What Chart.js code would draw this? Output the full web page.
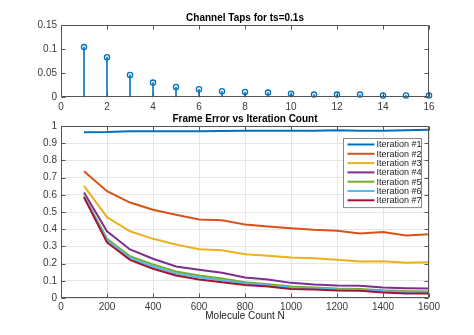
<!DOCTYPE html>
<html>
<head>
<meta charset="utf-8">
<script src="https://cdn.jsdelivr.net/npm/chart.js@4.4.1/dist/chart.umd.min.js"></script>
<style>
  body { margin: 0; background: #fff; }
  #wrap { position: relative; width: 474px; height: 335px; }
  canvas { position: absolute; left: 0; }
</style>
</head>
<body>
<div id="wrap">
  <canvas id="taps" width="474" height="112" style="top:0"></canvas>
  <canvas id="fer" width="474" height="223" style="top:112px"></canvas>
</div>
<script>
// channel impulse response, one tap per sample
const tapIndex = [1, 2, 3, 4, 5, 6, 7, 8, 9, 10, 11, 12, 13, 14, 15, 16];
const tapGain  = [0.104, 0.083, 0.046, 0.030, 0.021, 0.016, 0.012, 0.0105, 0.0092, 0.007, 0.005, 0.005, 0.005, 0.003, 0.003, 0.003];
const tapXTicks = [0, 2, 4, 6, 8, 10, 12, 14, 16];
const tapYTicks = [0, 0.05, 0.1, 0.15];

// frame error rate per decoder iteration
const moleculeCount = [100, 200, 300, 400, 500, 600, 700, 800, 900, 1000, 1100, 1200, 1300, 1400, 1500, 1600];
const iter1 = [0.963, 0.965, 0.970, 0.970, 0.970, 0.970, 0.971, 0.972, 0.972, 0.973, 0.973, 0.975, 0.973, 0.972, 0.975, 0.978];
const iter2 = [0.737, 0.621, 0.555, 0.513, 0.484, 0.457, 0.452, 0.428, 0.416, 0.406, 0.397, 0.391, 0.375, 0.383, 0.363, 0.371];
const iter3 = [0.652, 0.470, 0.388, 0.344, 0.311, 0.284, 0.278, 0.255, 0.245, 0.235, 0.231, 0.222, 0.212, 0.214, 0.205, 0.208];
const iter4 = [0.613, 0.388, 0.282, 0.228, 0.183, 0.164, 0.147, 0.119, 0.108, 0.088, 0.078, 0.073, 0.071, 0.061, 0.057, 0.055];
const iter5 = [0.595, 0.344, 0.243, 0.195, 0.154, 0.131, 0.113, 0.092, 0.080, 0.067, 0.061, 0.055, 0.053, 0.045, 0.040, 0.038];
const iter6 = [0.590, 0.334, 0.233, 0.183, 0.143, 0.120, 0.103, 0.084, 0.073, 0.060, 0.055, 0.049, 0.047, 0.039, 0.033, 0.032];
const iter7 = [0.585, 0.323, 0.222, 0.170, 0.131, 0.108, 0.092, 0.075, 0.067, 0.053, 0.049, 0.044, 0.042, 0.032, 0.026, 0.026];
const iterSeries = [iter1, iter2, iter3, iter4, iter5, iter6, iter7];
const iterNames  = ['Iteration #1', 'Iteration #2', 'Iteration #3', 'Iteration #4', 'Iteration #5', 'Iteration #6', 'Iteration #7'];
const iterColors = ['#0072BD', '#D95319', '#EDB120', '#7E2F8E', '#77AC30', '#4DBEEE', '#A2142F'];
const ferXTicks = [0, 200, 400, 600, 800, 1000, 1200, 1400, 1600];
const ferYTicks = [0, 0.1, 0.2, 0.3, 0.4, 0.5, 0.6, 0.7, 0.8, 0.9, 1];

Chart.defaults.font.family = '"Liberation Sans", Arial, Helvetica, sans-serif';
Chart.defaults.font.size = 10;
Chart.defaults.color = '#3a3a3a';
Chart.defaults.animation = false;

const fixTicks = list => scale => { scale.ticks = list.map(v => ({ value: v })); };

// matlab-style box with inward ticks on all four sides
const boxAxes = {
  id: 'boxAxes',
  afterDatasetsDraw(chart) {
    const { ctx, chartArea: a, scales } = chart;
    const L = Math.round(a.left) + 0.5, R = Math.round(a.right) - 0.5;
    const T = Math.round(a.top) + 0.5, B = Math.round(a.bottom) - 0.5;
    ctx.save();
    ctx.strokeStyle = '#555';
    ctx.lineWidth = 1;
    ctx.beginPath();
    ctx.rect(L, T, R - L, B - T);
    scales.x.ticks.forEach(t => {
      const px = Math.round(scales.x.getPixelForValue(t.value)) + 0.5;
      ctx.moveTo(px, B); ctx.lineTo(px, B - 4);
      ctx.moveTo(px, T); ctx.lineTo(px, T + 4);
    });
    scales.y.ticks.forEach(t => {
      const py = Math.round(scales.y.getPixelForValue(t.value)) + 0.5;
      ctx.moveTo(L, py); ctx.lineTo(L + 4, py);
      ctx.moveTo(R, py); ctx.lineTo(R - 4, py);
    });
    ctx.stroke();
    ctx.restore();
  }
};

// legend box in the upper right corner of the plot area
const insetLegend = {
  id: 'insetLegend',
  afterDraw(chart) {
    const { ctx, chartArea: a } = chart;
    const sets = chart.data.datasets;
    const w = 78, rowH = 9.3;
    const h = sets.length * rowH + 4;
    const x0 = Math.round(a.right - 8 - w) + 0.5, y0 = Math.round(a.top + 12) + 0.5;
    ctx.save();
    ctx.fillStyle = '#fff';
    ctx.fillRect(x0, y0, w, h);
    ctx.strokeStyle = '#888';
    ctx.lineWidth = 1;
    ctx.strokeRect(x0, y0, w, h);
    ctx.font = '9px "Liberation Sans", Arial, sans-serif';
    ctx.textBaseline = 'middle';
    ctx.fillStyle = '#222';
    sets.forEach((ds, i) => {
      const y = y0 + 6 + i * rowH;
      ctx.strokeStyle = ds.borderColor;
      ctx.lineWidth = 2;
      ctx.beginPath();
      ctx.moveTo(x0 + 4, y); ctx.lineTo(x0 + 31, y);
      ctx.stroke();
      ctx.fillText(ds.label, x0 + 33, y + 0.5);
    });
    ctx.restore();
  }
};

const tapPoints = tapIndex.map((n, i) => ({ x: n, y: tapGain[i] }));

new Chart(document.getElementById('taps'), {
  type: 'bar',
  data: {
    datasets: [
      {
        type: 'line', data: tapPoints, showLine: false, clip: false,
        pointRadius: 2.6, pointBorderWidth: 1.3, pointBorderColor: '#0072BD',
        pointBackgroundColor: 'rgba(0,0,0,0)'
      },
      { type: 'bar', data: tapPoints, barThickness: 1.2, backgroundColor: '#2a84c6', clip: false }
    ]
  },
  options: {
    responsive: false,
    layout: { padding: { left: 21, right: 45, top: 0, bottom: 0 } },
    plugins: {
      legend: { display: false },
      tooltip: { enabled: false },
      title: {
        display: true, fullSize: false, text: 'Channel Taps for ts=0.1s', color: '#000',
        font: { size: 10, weight: 'bold' }, padding: { top: 12, bottom: 1 }
      }
    },
    scales: {
      x: {
        type: 'linear', min: 0, max: 16, offset: false,
        afterBuildTicks: fixTicks(tapXTicks),
        afterFit: s => { s.height = 15; },
        grid: { display: false, drawTicks: false },
        border: { display: false },
        ticks: { padding: 4, maxRotation: 0, autoSkip: false, callback: v => String(v) }
      },
      y: {
        min: 0, max: 0.15,
        afterBuildTicks: fixTicks(tapYTicks),
        afterFit: s => { s.width = 40; },
        grid: { display: false, drawTicks: false },
        border: { display: false },
        ticks: { padding: 4, callback: v => String(+v.toFixed(2)) }
      }
    }
  },
  plugins: [boxAxes]
});

new Chart(document.getElementById('fer'), {
  type: 'line',
  data: {
    datasets: iterSeries.map((vals, i) => ({
      label: iterNames[i],
      data: moleculeCount.map((n, j) => ({ x: n, y: vals[j] })),
      borderColor: iterColors[i],
      borderWidth: 2,
      pointRadius: 0,
      tension: 0,
      order: iterSeries.length - i
    }))
  },
  options: {
    responsive: false,
    layout: { padding: { left: 21, right: 45, top: 0, bottom: 13 } },
    plugins: {
      legend: { display: false },
      tooltip: { enabled: false },
      title: {
        display: true, fullSize: false, text: 'Frame Error vs Iteration Count', color: '#000',
        font: { size: 10, weight: 'bold' }, padding: { top: 1, bottom: 1 }
      }
    },
    scales: {
      x: {
        type: 'linear', min: 0, max: 1600,
        afterBuildTicks: fixTicks(ferXTicks),
        afterFit: s => { s.height = 24; },
        grid: { color: '#e6e6e6', drawTicks: false },
        border: { display: false },
        ticks: { padding: 3, maxRotation: 0, autoSkip: false, callback: v => String(v) },
        title: { display: true, text: 'Molecule Count N', color: '#222', padding: { top: 0, bottom: 0 } }
      },
      y: {
        min: 0, max: 1,
        afterBuildTicks: fixTicks(ferYTicks),
        afterFit: s => { s.width = 40; },
        grid: { color: '#e6e6e6', drawTicks: false },
        border: { display: false },
        ticks: { padding: 4, callback: v => String(+v.toFixed(1)) }
      }
    }
  },
  plugins: [boxAxes, insetLegend]
});
</script>
</body>
</html>
